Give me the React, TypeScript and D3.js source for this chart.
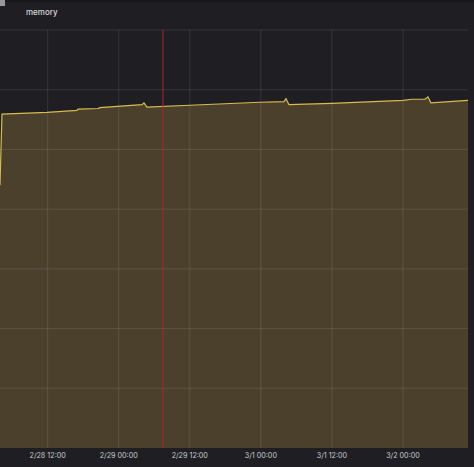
import React from "react";
import * as d3 from "d3";

const W = 474;
const H = 467;

const times: string[] = [
  "2024-02-28T03:57", "2024-02-28T04:17", "2024-02-28T11:53", "2024-02-28T16:57",
  "2024-02-28T17:07", "2024-02-28T20:32", "2024-02-28T20:50", "2024-02-29T03:56",
  "2024-02-29T04:16", "2024-02-29T04:46", "2024-02-29T12:00", "2024-02-29T23:51",
  "2024-03-01T03:55", "2024-03-01T04:15", "2024-03-01T04:45", "2024-03-01T12:00",
  "2024-03-02T00:00", "2024-03-02T01:30", "2024-03-02T03:42", "2024-03-02T04:13",
  "2024-03-02T04:43", "2024-03-02T10:59",
];
const memory: number[] = [
  4.40, 5.59, 5.62, 5.655,
  5.675, 5.685, 5.70, 5.75,
  5.78, 5.71, 5.74, 5.79,
  5.80, 5.85, 5.75, 5.77,
  5.82, 5.84, 5.84, 5.88,
  5.78, 5.82,
];
const yTicks: number[] = [1, 2, 3, 4, 5, 6, 7];
const annotationTimes: string[] = ["2024-02-29T07:28"];
const title = "memory";

const parse = (s: string) => new Date(s);

export default function App() {
  const left = 0, right = 468, top = 30, bottom = 448;
  const x = d3.scaleTime()
    .domain([parse("2024-02-28T03:57"), parse("2024-03-02T10:59")])
    .range([left, right]);
  const y = d3.scaleLinear().domain([0, 7]).range([bottom, top]);

  const data = times.map((t, i) => ({ t: parse(t), v: memory[i] }));
  const line = d3.line<{ t: Date; v: number }>().x(d => x(d.t)).y(d => y(d.v));
  const area = d3.area<{ t: Date; v: number }>().x(d => x(d.t)).y0(y(0)).y1(d => y(d.v));
  const xTicks = x.ticks(d3.timeHour.every(12)!);
  const fmt = d3.timeFormat("%-m/%-d %H:%M");

  return (
    <svg width={W} height={H} style={{ position: "absolute", left: 0, top: 0, display: "block" }}
      fontFamily="Inter, Roboto, sans-serif">
      <rect x={0} y={0} width={W} height={H} fill="#1f1f23" />
      <rect x={0} y={0} width={W} height={2} fill="#17171a" />
      <rect x={0} y={0} width={5} height={6} fill="#b8b8b8" opacity={0.8} />
      <text x={26} y={14.5} fill="#d8d9da" fontSize={8} fontWeight={500}>{title}</text>

      <path d={area(data) || ""} fill="#4a402b" />

      {yTicks.map(t => (
        <line key={"h" + t} x1={left} x2={right} y1={y(t)} y2={y(t)} stroke="#ffffff" strokeOpacity={0.1} />
      ))}
      {xTicks.map((t, i) => (
        <line key={"v" + i} x1={x(t)} x2={x(t)} y1={top} y2={bottom} stroke="#ffffff" strokeOpacity={0.1} />
      ))}

      <path d={line(data) || ""} fill="none" stroke="#d8bc50" strokeWidth={1.2} />

      {annotationTimes.map((t, i) => (
        <line key={"a" + i} x1={x(parse(t))} x2={x(parse(t))} y1={top} y2={bottom} stroke="#b3232a" strokeWidth={1} />
      ))}

      {xTicks.map((t, i) => (
        <text key={"l" + i} x={x(t)} y={458} fill="#c7cbd0" fontSize={7.2} textAnchor="middle">{fmt(t)}</text>
      ))}
    </svg>
  );
}
